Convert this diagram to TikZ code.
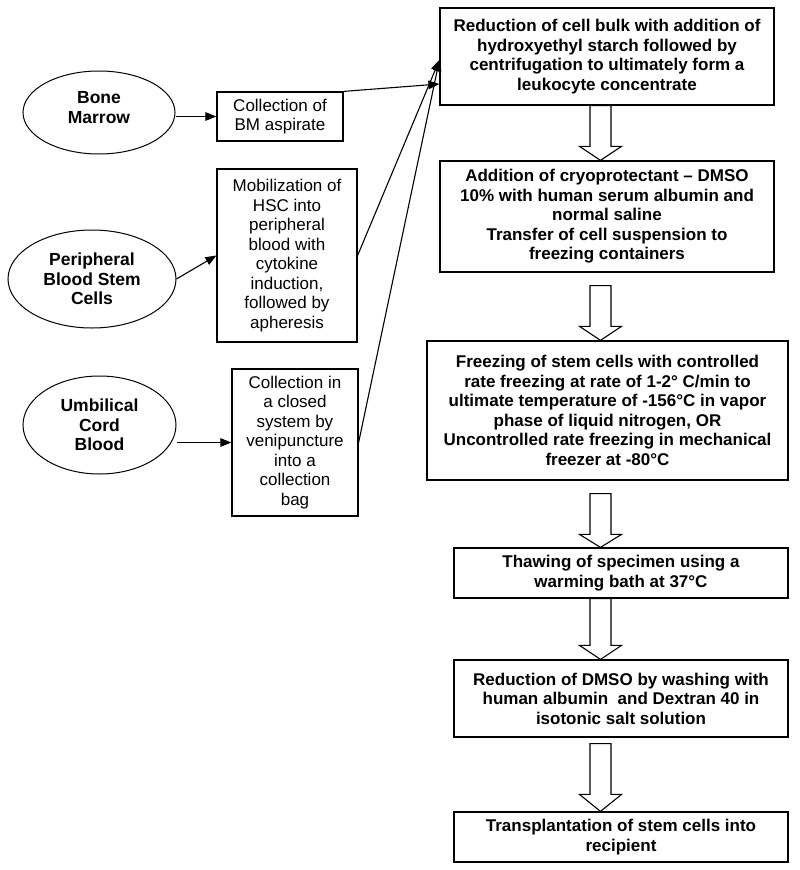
\documentclass[tikz,border=0pt]{standalone}
\usepackage{fontspec}
\setmainfont{Liberation Sans}
\usetikzlibrary{shapes.geometric,arrows.meta,calc}
\newcommand\hollowarrow[3]{%
  \draw[hollowarr] let \p1=(#1), \p2=(#2) in
    (\x1-10.5pt,\y1) -- (\x1-10.5pt,\y2+#3pt) -- (\x1-21pt,\y2+#3pt) -- (\x2,\y2)
    -- (\x1+21pt,\y2+#3pt) -- (\x1+10.5pt,\y2+#3pt) -- (\x1+10.5pt,\y1) -- cycle;}
\begin{document}
\begin{tikzpicture}[x=1pt,y=-1pt,
  box/.style={draw, rectangle, line width=1.2pt, inner sep=0pt, align=center,
    font=\bfseries\fontsize{17}{19.5}\selectfont},
  lbox/.style={draw, rectangle, line width=1.2pt, inner sep=0pt, align=center,
    font=\fontsize{17}{19.5}\selectfont},
  oval/.style={draw, ellipse, line width=1pt, inner sep=0pt, align=center,
    font=\bfseries\fontsize{17.5}{19.5}\selectfont},
  arr/.style={line width=1.1pt, -{Triangle[length=11pt,width=8.5pt]}},
  hollowarr/.style={draw, fill=white, line width=1.1pt, line join=miter}]
\useasboundingbox (0,0) rectangle (800,870);

% right column
\node[box, minimum width=334pt, minimum height=97pt] (r1) at (607,56.5)
  {Reduction of cell bulk with addition of\\hydroxyethyl starch followed by\\centrifugation to ultimately form a\\leukocyte concentrate};
\node[box, minimum width=334pt, minimum height=111pt] (r2) at (607,216.5)
  {Addition of cryoprotectant -- DMSO\\10\% with human serum albumin and\\normal saline\\Transfer of cell suspension to\\freezing containers};
\node[box, minimum width=361pt, minimum height=139pt] (r3) at (607.5,410.5)
  {Freezing of stem cells with controlled\\rate freezing at rate of 1-2° C/min to\\ultimate temperature of -156°C in vapor\\phase of liquid nitrogen, OR\\Uncontrolled rate freezing in mechanical\\freezer at -80°C};
\node[box, minimum width=334pt, minimum height=50pt] (r4) at (621,573)
  {Thawing of specimen using a\\warming bath at 37°C};
\node[box, minimum width=334pt, minimum height=77pt] (r5) at (621,698.5)
  {Reduction of DMSO by washing with\\human albumin\ \ and Dextran 40 in\\isotonic salt solution};
\node[box, minimum width=334pt, minimum height=50pt] (r6) at (621,837)
  {Transplantation of stem cells into\\recipient};

% left column
\node[oval, minimum width=152pt, minimum height=83pt, text depth=10pt] (bm) at (99,112.5) {Bone\\Marrow};
\node[oval, minimum width=168pt, minimum height=98pt] (pbsc) at (92,279) {Peripheral\\Blood Stem\\Cells};
\node[oval, minimum width=153pt, minimum height=98pt] (ucb) at (99.5,425) {Umbilical\\Cord\\Blood};

\node[lbox, minimum width=126pt, minimum height=49pt] (bmb) at (280,116.5) {Collection of\\BM aspirate};
\node[lbox, minimum width=140pt, minimum height=173pt] (mob) at (287,255.5)
  {Mobilization of\\HSC into\\peripheral\\blood with\\cytokine\\induction,\\followed by\\apheresis};
\node[lbox, minimum width=126pt, minimum height=147pt] (col) at (295,442.5)
  {Collection in\\a closed\\system by\\venipuncture\\into a\\collection\\bag};

% connectors left
\draw[arr] (bm.east |- bmb.west) -- (bmb.west);
\draw[arr] (pbsc.east) -- (mob.west);
\draw[arr] (ucb.east |- col.west) -- (col.west);

\coordinate (r1a) at ($(r1.west)+(0,27.5)$);
\coordinate (r1b) at ($(r1.west)+(0,3.5)$);
\draw[arr] (bmb.north east) -- (r1a);
\draw[arr] (mob.east) -- (r1b);
\draw[arr] (col.east) -- (r1b);

% hollow arrows
\coordinate (a1s) at ($(r1.south)+(-6.5,0)$);
\coordinate (a1t) at (a1s |- r2.north);
\coordinate (a2s) at ($(r2.south)+(-6.5,13)$);
\coordinate (a2t) at (a2s |- r3.north);
\coordinate (a3s) at ($(r3.south)+(-7,13)$);
\coordinate (a3t) at (a3s |- r4.north);
\coordinate (a4s) at ($(r4.south)+(-20.5,0)$);
\coordinate (a4t) at (a4s |- r5.north);
\coordinate (a5s) at ($(r5.south)+(-20.5,6)$);
\coordinate (a5t) at (a5s |- r6.north);
\hollowarrow{a1s}{a1t}{14}
\hollowarrow{a2s}{a2t}{14}
\hollowarrow{a3s}{a3t}{13}
\hollowarrow{a4s}{a4t}{14}
\hollowarrow{a5s}{a5t}{17}
\end{tikzpicture}
\end{document}
